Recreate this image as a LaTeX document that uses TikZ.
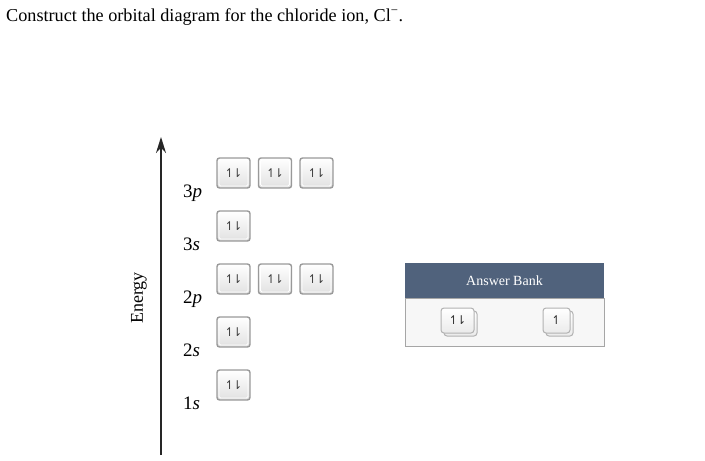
\documentclass[tikz,border=0pt]{standalone}
\usepackage{fontspec}
\setmainfont{Liberation Serif}
\newfontfamily\arrowfont{DejaVu Sans}
\usetikzlibrary{arrows.meta}
\definecolor{bankhead}{RGB}{80,98,124}
\newcommand{\spinpair}{↿\kern-2.4pt⇂}

\begin{document}
\begin{tikzpicture}[x=1pt,y=-1pt]
  \def\dx{41.5}
  \def\dy{53}

\tikzstyle{orb}=[draw=black!40,line width=1.4pt,rounded corners=2.5pt,top color=white,bottom color=black!12,minimum width=33pt,minimum height=30pt,inner sep=0pt,text=black!75,font=\arrowfont\fontsize{12}{12}\selectfont,
  path picture={\draw[white,line width=0.8pt,rounded corners=1.5pt] ([shift={(2pt,-2pt)}]path picture bounding box.north west) rectangle ([shift={(-2pt,2pt)}]path picture bounding box.south east);}]
\tikzstyle{lvl}=[anchor=base west,inner sep=0pt,font=\fontsize{19}{19}\selectfont]
\tikzstyle{card}=[draw=black!30,line width=1pt,rounded corners=3pt,top color=white,bottom color=black!8,minimum height=25pt,inner sep=0pt,text=black!80,font=\arrowfont\fontsize{12}{12}\selectfont]
\useasboundingbox (0,0) rectangle (705,461);
% question
\node[anchor=base west,inner sep=0pt,font=\fontsize{18.2}{18.2}\selectfont] (title) at (6,21) {Construct the orbital diagram for the chloride ion, Cl\textsuperscript{−}.};
% energy axis
\coordinate (base) at (161,455);
\coordinate (top) at (161,137);
\draw[black!85,line width=1.3pt,-{Stealth[length=16pt,width=10pt]}] (base) -- (top);
\node[rotate=90,font=\fontsize{18}{18}\selectfont] (energy) at (139,298) {Energy};
% levels
\node[lvl] (L1) at (183,0*\dy+197) {3\textit{p}};
\node[lvl] (L2) at (183,1*\dy+197) {3\textit{s}};
\node[lvl] (L3) at (183,2*\dy+197) {2\textit{p}};
\node[lvl] (L4) at (183,3*\dy+197) {2\textit{s}};
\node[lvl] (L5) at (183,4*\dy+197) {1\textit{s}};
% orbitals
\node[orb] (O1) at (233.5+0*\dx,0*\dy+173) {\spinpair};
\node[orb] (O2) at (233.5+1*\dx,0*\dy+173) {\spinpair};
\node[orb] (O3) at (233.5+2*\dx,0*\dy+173) {\spinpair};
\node[orb] (O4) at (233.5+0*\dx,1*\dy+173) {\spinpair};
\node[orb] (O5) at (233.5+0*\dx,2*\dy+173) {\spinpair};
\node[orb] (O6) at (233.5+1*\dx,2*\dy+173) {\spinpair};
\node[orb] (O7) at (233.5+2*\dx,2*\dy+173) {\spinpair};
\node[orb] (O8) at (233.5+0*\dx,3*\dy+173) {\spinpair};
\node[orb] (O9) at (233.5+0*\dx,4*\dy+173) {\spinpair};
% answer bank
\node[draw=black!35,fill=black!3,minimum width=199pt,minimum height=48pt,inner sep=0pt] (bank) at (504.5,322) {};
\node[fill=bankhead,text=white,minimum width=199pt,minimum height=35pt,inner sep=0pt,font=\fontsize{14}{14}\selectfont] (bankhead) at (504.5,280.5) {Answer Bank};
\node[card,minimum width=33pt] (C1back) at (460.5,323.5) {};
\node[card,minimum width=33pt] (C1) at (457.5,320.5) {\spinpair};
\node[card,minimum width=27pt] (C2back) at (559.5,323.5) {};
\node[card,minimum width=27pt] (C2) at (556.5,320.5) {↿};
\end{tikzpicture}
\end{document}
